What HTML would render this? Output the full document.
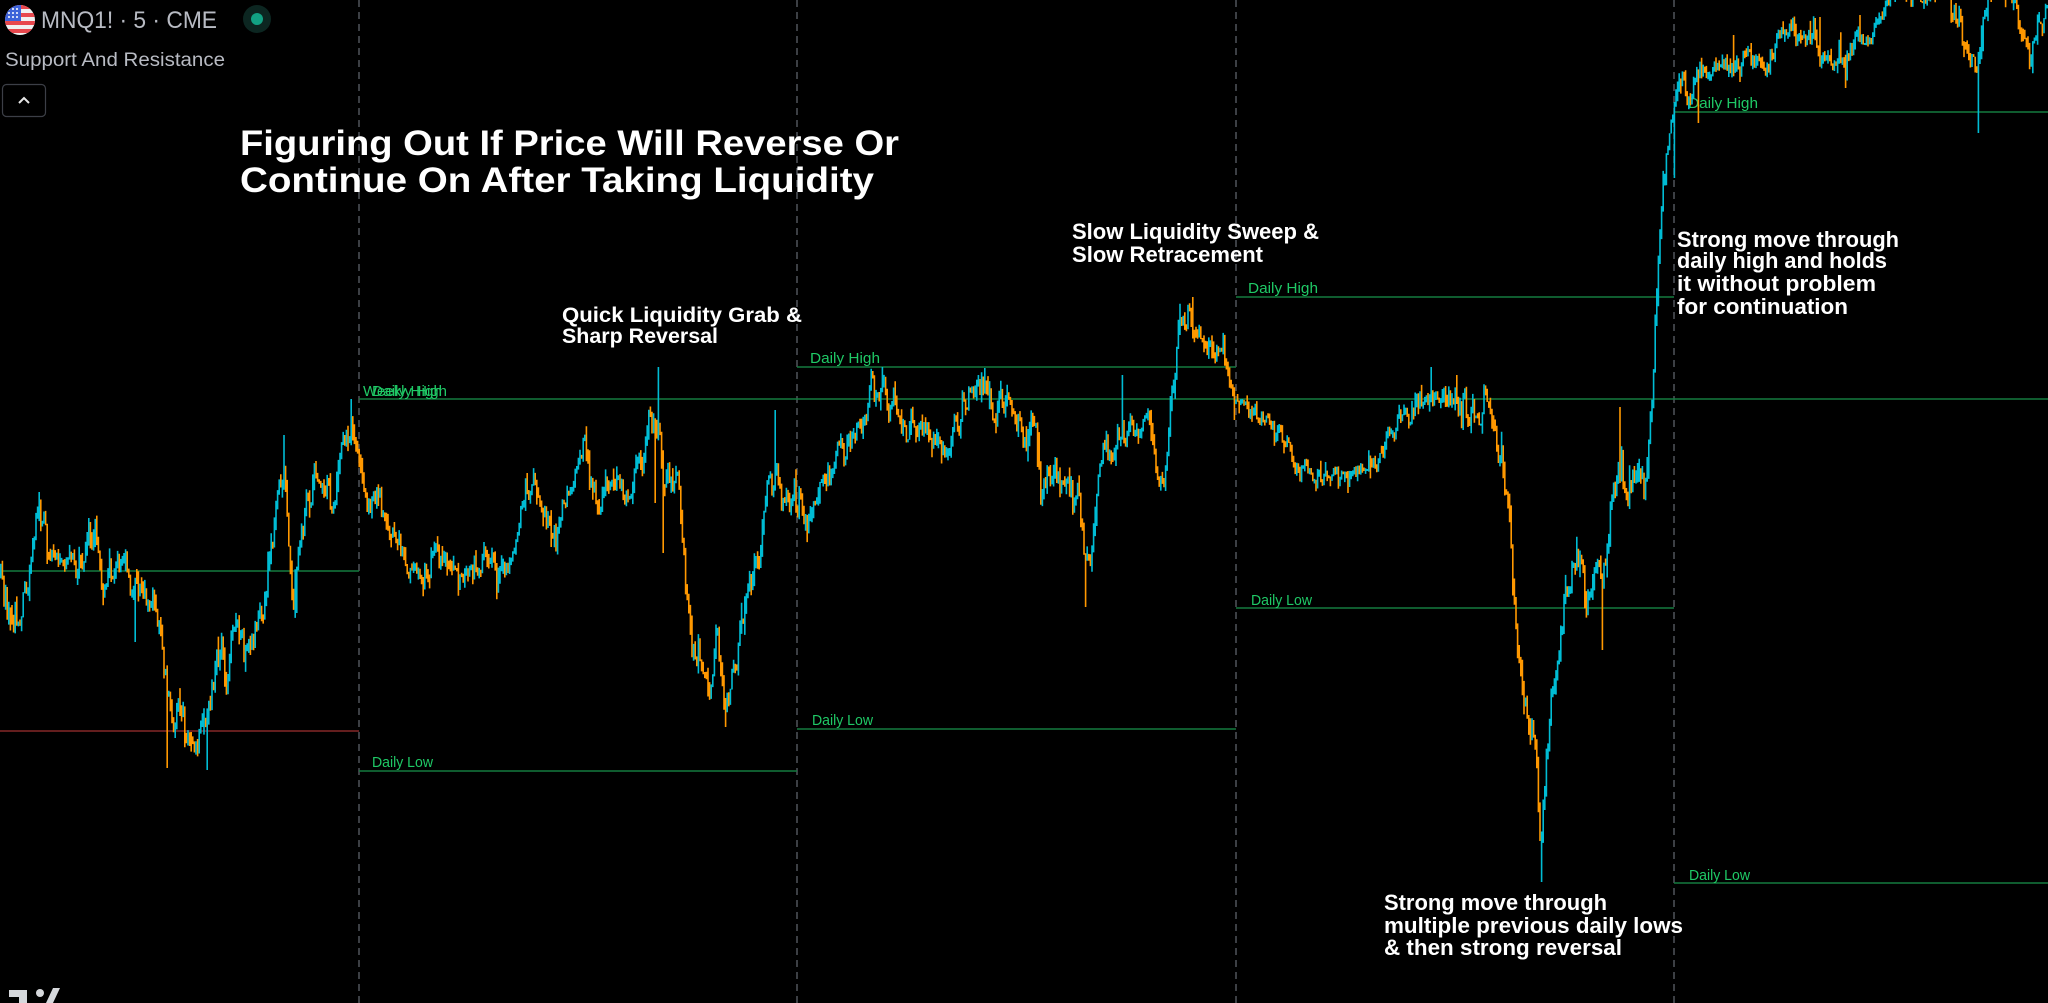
<!DOCTYPE html>
<html><head><meta charset="utf-8"><style>
html,body{margin:0;padding:0;background:#000;}
svg{display:block;}
.lbl{font-family:"Liberation Sans",sans-serif;font-size:15px;fill:#1fc966;}
.ann{font-family:"Liberation Sans",sans-serif;font-weight:bold;fill:#fff;}
.hdr{font-family:"Liberation Sans",sans-serif;fill:#b8bbc3;}
</style></head><body>
<svg id="c" width="2048" height="1003" viewBox="0 0 2048 1003" xmlns="http://www.w3.org/2000/svg">
<rect width="2048" height="1003" fill="#000"/>
<g stroke="#555a62" stroke-width="1.4" stroke-dasharray="7 5">
<line x1="359" y1="0" x2="359" y2="1003"/>
<line x1="797" y1="0" x2="797" y2="1003"/>
<line x1="1236" y1="0" x2="1236" y2="1003"/>
<line x1="1674" y1="0" x2="1674" y2="1003"/>
</g>
<g stroke="#147a3f" stroke-width="1.5">
<line x1="0" y1="571" x2="359" y2="571"/>
<line x1="359" y1="399" x2="2048" y2="399"/>
<line x1="359" y1="771" x2="797" y2="771"/>
<line x1="797" y1="367" x2="1236" y2="367"/>
<line x1="797" y1="729" x2="1236" y2="729"/>
<line x1="1236" y1="297" x2="1674" y2="297"/>
<line x1="1236" y1="608" x2="1674" y2="608"/>
<line x1="1674" y1="112" x2="2048" y2="112"/>
<line x1="1674" y1="883" x2="2048" y2="883"/>
</g>
<line x1="0" y1="731" x2="359" y2="731" stroke="#862828" stroke-width="1.5"/>
<g class="lbl">
<text x="363" y="396" textLength="84" lengthAdjust="spacingAndGlyphs">Weekly High</text>
<text x="372" y="396" textLength="70" lengthAdjust="spacingAndGlyphs">Daily High</text>
<text x="372" y="767" textLength="61" lengthAdjust="spacingAndGlyphs">Daily Low</text>
<text x="810" y="363" textLength="70" lengthAdjust="spacingAndGlyphs">Daily High</text>
<text x="812" y="725" textLength="61" lengthAdjust="spacingAndGlyphs">Daily Low</text>
<text x="1248" y="293" textLength="70" lengthAdjust="spacingAndGlyphs">Daily High</text>
<text x="1251" y="605" textLength="61" lengthAdjust="spacingAndGlyphs">Daily Low</text>
<text x="1688" y="108" textLength="70" lengthAdjust="spacingAndGlyphs">Daily High</text>
<text x="1689" y="880" textLength="61" lengthAdjust="spacingAndGlyphs">Daily Low</text>
</g>
<g id="bars">
<path id="pdn" fill="none" stroke="#ff9800" stroke-width="1.6" d=""/>
<path id="pup" fill="none" stroke="#00bcd4" stroke-width="1.6" d=""/>
</g>
<g class="ann">
<text x="240" y="155" font-size="35" textLength="659" lengthAdjust="spacingAndGlyphs">Figuring Out If Price Will Reverse Or</text>
<text x="240" y="192" font-size="35" textLength="634" lengthAdjust="spacingAndGlyphs">Continue On After Taking Liquidity</text>
<text x="562" y="322" font-size="21" textLength="240" lengthAdjust="spacingAndGlyphs">Quick Liquidity Grab &amp;</text>
<text x="562" y="343" font-size="21" textLength="156" lengthAdjust="spacingAndGlyphs">Sharp Reversal</text>
<text x="1072" y="239" font-size="22" textLength="247" lengthAdjust="spacingAndGlyphs">Slow Liquidity Sweep &amp;</text>
<text x="1072" y="262" font-size="22" textLength="191" lengthAdjust="spacingAndGlyphs">Slow Retracement</text>
<text x="1677" y="247" font-size="22" textLength="222" lengthAdjust="spacingAndGlyphs">Strong move through</text>
<text x="1677" y="268" font-size="22" textLength="210" lengthAdjust="spacingAndGlyphs">daily high and holds</text>
<text x="1677" y="291" font-size="22" textLength="199" lengthAdjust="spacingAndGlyphs">it without problem</text>
<text x="1677" y="314" font-size="22" textLength="171" lengthAdjust="spacingAndGlyphs">for continuation</text>
<text x="1384" y="910" font-size="22" textLength="223" lengthAdjust="spacingAndGlyphs">Strong move through</text>
<text x="1384" y="933" font-size="22" textLength="299" lengthAdjust="spacingAndGlyphs">multiple previous daily lows</text>
<text x="1384" y="955" font-size="22" textLength="238" lengthAdjust="spacingAndGlyphs">&amp; then strong reversal</text>
</g>
<defs><clipPath id="fc"><circle cx="20" cy="20" r="15"/></clipPath></defs>
<g clip-path="url(#fc)">
<rect x="5" y="5" width="30" height="30" fill="#f0f0f0"/>
<rect x="5" y="5" width="30" height="4" fill="#e8474d"/>
<rect x="5" y="13" width="30" height="4" fill="#e8474d"/>
<rect x="5" y="21" width="30" height="4" fill="#e8474d"/>
<rect x="5" y="29" width="30" height="4" fill="#e8474d"/>
<rect x="5" y="5" width="16" height="16" fill="#3d63d9"/>
<g fill="#fff"><circle cx="9" cy="9" r="1"/><circle cx="13" cy="9" r="1"/><circle cx="17" cy="9" r="1"/><circle cx="9" cy="13" r="1"/><circle cx="13" cy="13" r="1"/><circle cx="17" cy="13" r="1"/><circle cx="9" cy="17" r="1"/><circle cx="13" cy="17" r="1"/><circle cx="17" cy="17" r="1"/></g>
</g>
<text class="hdr" x="41" y="28" font-size="24" textLength="176" lengthAdjust="spacingAndGlyphs">MNQ1! · 5 · CME</text>
<circle cx="257" cy="19" r="14" fill="#0c2621"/>
<circle cx="257" cy="19" r="6" fill="#12a183"/>
<text class="hdr" x="5" y="66" font-size="19" textLength="220" lengthAdjust="spacingAndGlyphs">Support And Resistance</text>
<rect x="2.5" y="84.5" width="43" height="32" rx="4" fill="none" stroke="#3c3f47" stroke-width="1.2"/>
<polyline points="19,103 24,98 29,103" fill="none" stroke="#e6e6e6" stroke-width="2"/>
<g fill="#d6d8dc">
<path d="M9 990 H27 V1003 H19 V997 H9 Z"/>
<circle cx="40" cy="993" r="4"/>
<polygon points="46,1003 53,988 60,988 53,1003"/>
</g>
</svg>
<script>
(function(){
var K=[[0,590],[6,610],[12,615],[20,605],[26,585],[32,545],[38,510],[43,530],[48,560],[58,565],[68,560],[78,575],[86,545],[91,525],[96,545],[102,585],[110,570],[120,570],[128,565],[134,590],[146,600],[153,580],[158,620],[163,660],[168,710],[174,735],[180,700],[186,735],[195,740],[203,730],[210,700],[216,660],[222,640],[226,700],[231,640],[236,615],[243,640],[250,650],[258,625],[265,600],[270,560],[275,520],[280,480],[285,470],[289,530],[293,600],[297,580],[302,530],[307,500],[313,480],[318,475],[324,485],[329,500],[333,525],[337,480],[341,450],[346,435],[351,440],[356,440],[360,460],
[364,500],[370,505],[378,505],[385,520],[392,530],[398,545],[405,560],[412,580],[420,585],[428,570],[436,560],[443,550],[450,570],[460,580],[470,575],[480,572],[490,568],[500,570],[508,568],[512,555],
[516,540],[520,510],[526,485],[532,480],[537,495],[542,515],[548,525],[553,530],[558,520],[563,500],[570,485],[578,465],[584,455],[590,480],[598,495],[605,485],[612,475],[618,490],[624,500],[628,505],[634,480],[640,460],[646,440],[651,428],[655,430],[659,420],[663,490],[667,470],[673,480],[678,500],[683,540],[688,600],[693,640],[698,660],[703,670],[708,690],[713,680],[716,650],[720,680],[725,705],[730,690],[735,660],[740,630],[745,605],[750,585],[755,565],[760,540],[765,495],[770,475],[775,470],[780,495],[787,500],[794,505],[800,510],[806,520],[812,500],[818,485],[825,475],[832,465],[838,455],[845,445],[852,435],[858,432],[864,428],[869,395],[874,385],[879,375],[884,380],[889,405],[896,415],[903,418],[909,420],[916,425],[922,430],[928,440],[935,445],[942,440],[950,430],[957,420],[964,410],[970,400],[976,390],[981,385],[986,380],[991,405],[996,415],[1001,400],[1006,405],[1012,420],[1018,425],[1025,422],[1032,425],[1037,440],
[1041,500],[1045,480],[1052,470],[1059,478],[1066,490],[1072,492],[1078,480],[1082,520],[1086,580],[1090,560],[1095,520],[1100,450],[1106,440],[1112,450],[1118,440],[1124,430],[1130,425],[1136,430],[1142,415],[1148,420],[1152,440],[1158,480],[1164,470],[1170,425],[1175,380],[1178,335],[1183,325],[1188,320],[1193,318],[1198,325],[1203,335],[1209,340],[1215,345],[1220,350],[1225,370],[1230,390],[1236,395],[1241,400],[1246,405],[1252,410],[1258,412],[1264,418],[1270,420],[1276,425],[1282,430],[1288,450],[1294,460],[1300,462],[1306,470],[1312,475],[1318,472],[1324,478],[1330,485],[1336,475],[1342,472],[1350,470],[1358,472],[1366,470],[1372,465],[1378,465],[1384,455],[1390,440],[1396,428],[1402,420],[1408,415],[1414,410],[1420,405],[1426,400],[1432,395],[1438,400],[1444,398],[1450,395],[1456,393],[1461,403],[1467,407],[1473,410],[1478,425],[1483,405],[1487,400],[1492,425],[1497,445],[1502,460],[1507,480],[1511,540],[1514,600],[1518,650],[1522,700],[1527,715],[1532,720],[1535,760],[1538,800],[1541,840],[1544,800],[1547,740],[1550,710],[1554,680],[1558,650],[1562,620],[1566,590],[1571,570],[1576,555],[1581,550],[1586,590],[1590,600],[1594,570],[1598,560],[1602,590],[1606,560],[1610,520],[1614,490],[1618,480],[1622,470],[1627,490],[1632,500],[1637,480],[1642,485],[1647,480],[1650,430],[1653,380],[1656,300],[1659,230],[1663,185],[1667,150],[1671,130],[1675,120],[1679,85],[1683,90],[1688,100],[1694,95],[1700,75],[1706,75],[1712,70],[1718,68],[1724,60],[1730,65],[1736,68],[1742,65],[1748,60],[1754,62],[1760,58],[1766,60],[1772,50],[1778,45],[1784,40],[1790,35],[1796,40],[1802,45],[1808,40],[1814,35],[1820,50],[1826,60],[1832,62],[1838,65],[1843,70],[1848,60],[1853,45],[1858,35],[1864,42],[1870,40],[1876,25],[1882,15],[1888,5],[1894,-10],[1900,-15],[1906,-10],[1912,-5],[1918,-2],[1924,-5],[1930,-5],[1936,-15],[1942,-15],[1948,-5],[1954,15],[1960,30],[1966,50],[1972,70],[1977,80],[1982,40],[1988,10],[1994,-15],[2000,-20],[2006,-20],[2012,-10],[2018,20],[2024,40],[2030,50],[2036,30],[2042,20],[2050,10]];
var S=[[40,492,1],[352,399,1],[284,435,1],[296,613,0],[167,768,0],[207,770,0],[135,642,0],[551,547,0],[584,450,1],[655,503,0],[659,367,1],[664,553,0],[726,727,0],[775,410,1],[805,530,0],[882,367,1],[985,368,1],[1037,467,0],[1086,607,0],[1122,375,1],[1193,297,1],[1234,420,0],[1431,367,1],[1456,375,1],[1541,882,0],[1603,650,0],[1620,407,1],[1675,178,0],[1698,123,0],[1733,35,1],[1820,17,1],[1845,88,0],[1860,15,1],[1978,133,0]];
var seed=987654;
function R(){seed|=0;seed=seed+0x6D2B79F5|0;var t=Math.imul(seed^seed>>>15,1|seed);t=t+Math.imul(t^t>>>7,61|t)^t;return((t^t>>>14)>>>0)/4294967296;}
function G(){var u=R()||1e-9,v=R();return Math.sqrt(-2*Math.log(u))*Math.cos(2*Math.PI*v);}
var k=0;
function mid(x){while(k<K.length-2&&K[k+1][0]<x)k++;var a=K[k],b=K[k+1];var t=(x-a[0])/(b[0]-a[0]);if(t<0)t=0;if(t>1)t=1;return a[1]+(b[1]-a[1])*t;}
function vol(x){if(x<360)return 1.1;if(x>640&&x<760)return 1.2;if(x>1240&&x<1410)return 0.75;if(x>1500&&x<1660)return 1.3;if(x>1680&&x<1900)return 0.85;return 1.0;}
var dx=1.6,e=0,prev=null,up="",dn="";
for(var x=0.8;x<2050;x+=dx){
 var v=vol(x);
 e=0.5*e+G()*7.5*v;
 var c=mid(x)+e;
 var o=(prev===null)?c+G()*5:prev;
 var hi=Math.min(o,c)-Math.abs(G())*5*v;
 var lo=Math.max(o,c)+Math.abs(G())*5*v;
 for(var j=0;j<S.length;j++){if(Math.abs(S[j][0]-x)<=dx/2){if(S[j][2])hi=Math.min(hi,S[j][1]);else lo=Math.max(lo,S[j][1]);}}
 if(lo-hi<2)lo=hi+2;
 var s="M"+x.toFixed(1)+" "+hi.toFixed(1)+"V"+lo.toFixed(1);
 if(c<=o)up+=s;else dn+=s;
 prev=c;
}
document.getElementById("pup").setAttribute("d",up);
document.getElementById("pdn").setAttribute("d",dn);
})();
</script>
</body></html>
